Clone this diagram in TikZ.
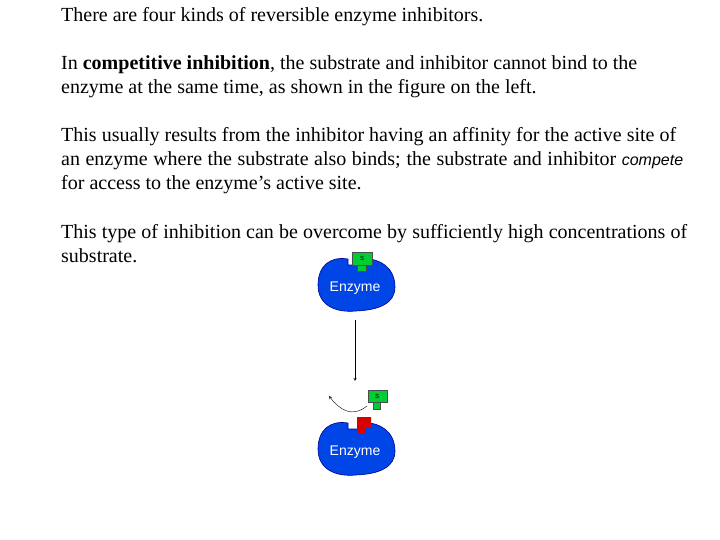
\documentclass[tikz,border=0pt]{standalone}
\usepackage{fontspec}
\setmainfont{Liberation Serif}
\setsansfont{Liberation Sans}
\begin{document}
\begin{tikzpicture}[x=1pt,y=-1pt,
  txt/.style={anchor=base west,inner sep=0pt,font=\fontsize{20}{24}\selectfont},
  enz/.style={fill=blue!70!cyan!90!black,draw=blue!60!black,line width=0.6pt},
  sub/.style={fill=green!60!teal,draw=black!70,line width=0.5pt},
  lbl/.style={text=white,font=\sffamily\fontsize{14}{16}\selectfont}]
\useasboundingbox (0,0) rectangle (720,540);
\node[txt] (l1) at (61,22) {There are four kinds of reversible enzyme inhibitors.};
\node[txt] (l2) at (61,70) {In \textbf{competitive inhibition}, the substrate and inhibitor cannot bind to the};
\node[txt] (l3) at (61,94) {enzyme at the same time, as shown in the figure on the left.};
\node[txt] (l4) at (61,142) {\makebox[615pt][s]{This usually results from the inhibitor having an affinity for the active site of}};
\node[txt] (l5) at (61,166) {\makebox[622pt][s]{an enzyme where the substrate also binds; the substrate and inhibitor \textsf{\textit{\fontsize{16}{20}\selectfont compete}}}};
\node[txt] (l6) at (61,190) {for access to the enzyme's active site.};
\node[txt] (l7) at (61,238) {\makebox[626pt][s]{This type of inhibition can be overcome by sufficiently high concentrations of}};
\node[txt] (l8) at (61,262) {substrate.};
% top enzyme
\draw[enz] (355,265) -- (348,265) -- (348,259) .. controls (330,256) and (318,266) .. (318,285)
  .. controls (318,305) and (335,313) .. (356,311) .. controls (380,310) and (395,303) .. (395,287)
  .. controls (395,268) and (380,258) .. (364,259) -- (364,265) -- cycle;
\draw[sub] (352,252) rectangle (372,265);
\draw[sub] (357,265) rectangle (366,271);
\node[font=\sffamily\fontsize{6}{6}\selectfont] (s1) at (362,258) {S};
\node[lbl] (e1) at (355,288) {Enzyme};
% arrow
\coordinate (a1) at (355,320);
\coordinate (a2) at (355,381);
\draw[-stealth] (a1) -- (a2);
% bottom enzyme
\draw[enz] (355,429) -- (348,429) -- (348,423) .. controls (330,420) and (318,430) .. (318,449)
  .. controls (318,469) and (335,477) .. (356,475) .. controls (380,474) and (395,467) .. (395,451)
  .. controls (395,432) and (380,422) .. (364,423) -- (364,429) -- cycle;
\fill[red!85!black] (357,417) -- (371,417) -- (371,427) -- (365,427) -- (365,433) -- (357,433) -- cycle;
\node[lbl] (e2) at (355,452) {Enzyme};
\draw[sub] (368,390) rectangle (387,402);
\draw[sub] (373,402) rectangle (380,409);
\node[font=\sffamily\fontsize{6}{6}\selectfont] (s2) at (377,396) {S};
\coordinate (c1) at (367,406);
\coordinate (c2) at (329,396);
\draw[-stealth] (c1) .. controls (352,418) and (340,410) .. (c2);
\end{tikzpicture}
\end{document}
